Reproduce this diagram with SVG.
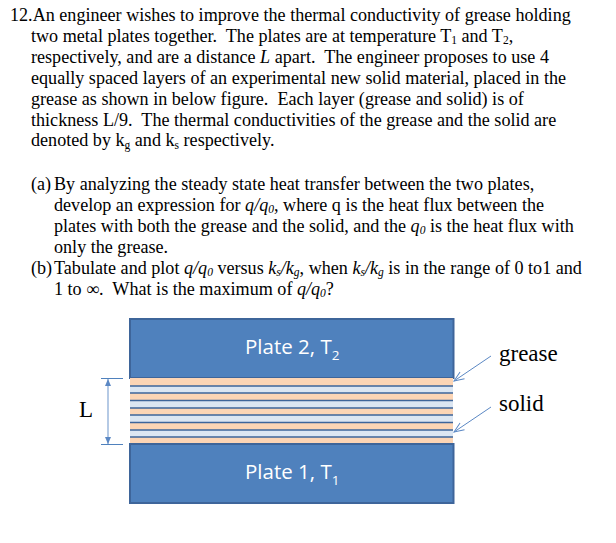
<svg xmlns="http://www.w3.org/2000/svg" width="616" height="543" viewBox="0 0 616 543">
<style>
text{font-family:"Liberation Serif","Times New Roman",serif;font-size:18.13px;fill:#000;white-space:pre}
.p{font-family:"Open Sans","Noto Sans",sans-serif;font-size:20.5px;fill:#fff}
.s{font-size:11.5px}
.i{font-style:italic}
.big{font-size:23px}
.plate{fill:#4f81bd;stroke:#3e659a;stroke-width:2}
.g{fill:#fcd5b5}
.so{fill:#dce6f2}
.ln{stroke:#3e659a;stroke-width:1.5;fill:none}
.con{stroke:#5b88c4;stroke-width:1;fill:none}
</style>
<defs>
<marker id="o" markerWidth="12" markerHeight="10" refX="11" refY="5" orient="auto" markerUnits="userSpaceOnUse"><path d="M1 1L11 5L1 9" fill="none" stroke="#5b88c4" stroke-width="1"/></marker>
<marker id="a" markerWidth="8" markerHeight="8" refX="7" refY="4" orient="auto-start-reverse" markerUnits="userSpaceOnUse"><path d="M0 1L7 4L0 7Z" fill="#5b88c4"/></marker>
</defs>
<rect width="616" height="543" fill="#fff"/>
<g id="question">
<text x="10" y="21">12.An engineer wishes to improve the thermal conductivity of grease holding</text>
<text x="31" y="42">two metal plates together.  The plates are at temperature T<tspan class="s" dy="2">1</tspan><tspan dy="-2"> and T</tspan><tspan class="s" dy="2">2</tspan><tspan dy="-2">,</tspan></text>
<text x="31" y="63">respectively, and are a distance <tspan class="i">L</tspan> apart.  The engineer proposes to use 4</text>
<text x="31" y="84">equally spaced layers of an experimental new solid material, placed in the</text>
<text x="31" y="105">grease as shown in below figure.  Each layer (grease and solid) is of</text>
<text x="31" y="126">thickness L/9.  The thermal conductivities of the grease and the solid are</text>
<text x="31" y="146">denoted by k<tspan class="s" dy="3">g</tspan><tspan dy="-3"> and k</tspan><tspan class="s" dy="3">s</tspan><tspan dy="-3"> respectively.</tspan></text>
<text x="31" y="190">(a)</text>
<text x="54" y="190">By analyzing the steady state heat transfer between the two plates,</text>
<text x="54" y="211">develop an expression for <tspan class="i">q/q</tspan><tspan class="s i" dy="2">0</tspan><tspan dy="-2">, where q is the heat flux between the</tspan></text>
<text x="54" y="232">plates with both the grease and the solid, and the <tspan class="i">q</tspan><tspan class="s i" dy="2">0</tspan><tspan dy="-2"> is the heat flux with</tspan></text>
<text x="54" y="253">only the grease.</text>
<text x="31" y="274">(b)</text>
<text x="54" y="274">Tabulate and plot <tspan class="i">q/q</tspan><tspan class="s i" dy="2">0</tspan><tspan dy="-2"> versus <tspan class="i">k</tspan></tspan><tspan class="s i" dy="2">s</tspan><tspan class="i" dy="-2">/k</tspan><tspan class="s i" dy="2">g</tspan><tspan dy="-2">, when <tspan class="i">k</tspan></tspan><tspan class="s i" dy="2">s</tspan><tspan class="i" dy="-2">/k</tspan><tspan class="s i" dy="2">g</tspan><tspan dy="-2"> is in the range of 0 to1 and</tspan></text>
<text x="54" y="295">1 to ∞.  What is the maximum of <tspan class="i">q/q</tspan><tspan class="s i" dy="2">0</tspan><tspan dy="-2">?</tspan></text>
</g>
<g id="plate2"><rect class="plate" x="130" y="319" width="323.500" height="59"/>
<text class="p" x="245" y="354">Plate 2, T<tspan style="font-size:13.500px" dy="6">2</tspan></text></g>
<g id="layers">
<rect class="g" x="130" y="378" width="323" height="8"/><rect class="so" x="130" y="386" width="323" height="7"/>
<rect class="g" x="130" y="393" width="323" height="8"/><rect class="so" x="130" y="401" width="323" height="7"/>
<rect class="g" x="130" y="408" width="323" height="7"/><rect class="so" x="130" y="415" width="323" height="8"/>
<rect class="g" x="130" y="423" width="323" height="7"/><rect class="so" x="130" y="430" width="323" height="7"/>
<rect class="g" x="130" y="437" width="323" height="7"/>
<path class="ln" d="M130 386H453M130 393H453M130 400.500H453M130 408H453M130 415H453M130 422.500H453M130 430H453M130 437H453"/>
</g>
<g id="plate1"><rect class="plate" x="130" y="444" width="323.500" height="59"/>
<text class="p" x="245" y="479">Plate 1, T<tspan style="font-size:13.500px" dy="6">1</tspan></text></g>
<g id="labels">
<text class="big" x="499" y="361">grease</text>
<text class="big" x="499" y="411">solid</text>
<text class="big" x="79" y="417">L</text>
</g>
<g id="connectors">
<path class="con" d="M491 356L454 381" marker-end="url(#o)"/>
<path class="con" d="M491 407L454 432" marker-end="url(#o)"/>
<path d="M101 378.500H123M101 444.500H123" stroke="#4f81bd" stroke-width="1" fill="none"/>
<path d="M108 379V444" stroke="#9db8dc" stroke-width="1.500" marker-start="url(#a)" marker-end="url(#a)"/>
</g>
</svg>
